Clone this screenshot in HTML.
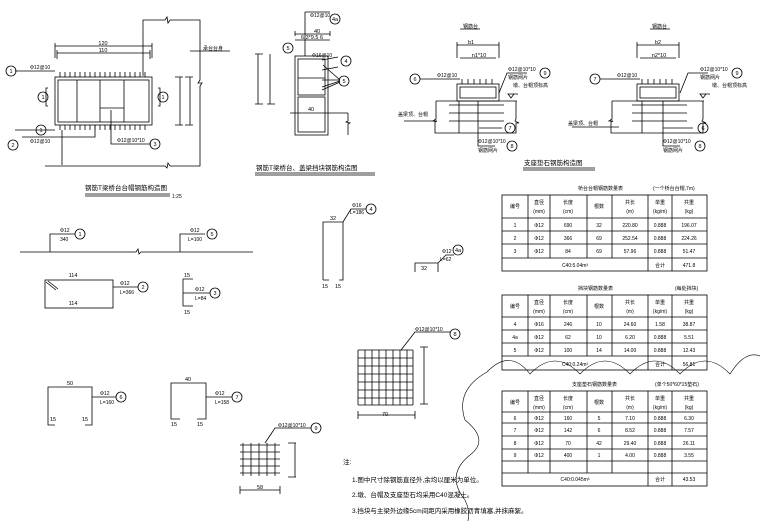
<!DOCTYPE html>
<html><head><meta charset="utf-8"><style>
body{margin:0;background:#fff;}
svg{display:block;font-family:"Liberation Sans","Noto Sans CJK SC",sans-serif;}
text{fill:#000;}
</style></head><body>
<svg width="760" height="521" viewBox="0 0 760 521" xmlns="http://www.w3.org/2000/svg">
<g stroke="#000" stroke-width="0.8" fill="none">
<!-- main cap drawing -->
<rect x="55" y="77" width="97" height="48"/>
<rect x="58" y="80" width="91" height="42"/>
<line x1="77" y1="80" x2="77" y2="122"/><line x1="100" y1="80" x2="100" y2="122"/><line x1="124" y1="80" x2="124" y2="122"/>
<line x1="100" y1="108" x2="124" y2="108"/>
<path d="M60 72v5M65 72v5M70 72v5M75 72v5M80 72v5M85 72v5M90 72v5M95 72v5M100 72v5M105 72v5M110 72v5M115 72v5M120 72v5M125 72v5M130 72v5M135 72v5M140 72v5M145 72v5"/>
<path d="M60 125v5M65 125v5M70 125v5M75 125v5M80 125v5M85 125v5M90 125v5M95 125v5M100 125v5M105 125v5M110 125v5M115 125v5M120 125v5M125 125v5M130 125v5M135 125v5M140 125v5M145 125v5"/>
<path d="M48 88h-2v18h2M158 88h2v18h-2"/>
<path d="M55 46h97M57 53h93M55 43v15M152 43v15M57 50v9M150 50v9"/>
<path d="M143 76V20h22l2-3 1 6 2-3h30v60l-2 3 4 0-2 3v80H170l-2-3-1 5-2-2H45"/>
<path d="M190 51h40"/>
<path d="M62 130v35M95 125v12H22M15 71h40M111 110v34h40M15 130h40"/>
<path d="M180 77v48M175 77h8M175 125h8M190 77v48M185 77h8M185 125h8"/>
<path d="M85 194h85M85 196h85" stroke-width="0.7"/>
<!-- second drawing -->
<rect x="295" y="56" width="33" height="79"/>
<rect x="298" y="59" width="27" height="36"/>
<line x1="298" y1="78" x2="325" y2="78"/>
<rect x="298" y="97" width="27" height="35"/>
<line x1="290" y1="113" x2="348" y2="113"/>
<path d="M305 12v44M305 12h25M295 34h35M295 40h35M295 31v5M330 31v5"/>
<path d="M258 54v50M255 104h8M270 54v50M267 104h8M255 54h8"/>
<path d="M322 60l16-3M322 70l16-3M322 80l18 0M322 87l18-6M322 90l18-8M323 65l17 15"/>
<path d="M348 113v8l-2 1 4 1-2 1v11"/>
<path d="M255 173h120M255 175h120" stroke-width="0.7"/>
<!-- right top left -->
<path d="M460 29h20M457 45h42M457 42v16M499 42v16M460 58h36"/>
<rect x="457" y="84" width="42" height="17"/><rect x="460" y="87" width="36" height="11"/>
<path d="M462 79v5M468 79v5M474 79v5M480 79v5M486 79v5M492 79v5"/>
<path d="M420 79h40M518 94h-10l3 4 3-4"/>
<path d="M436 101h81M436 101v18l-3 2 4 0-2 1v11h81v-10l3 0-4-2 1-2v-18"/>
<path d="M449 105h55M449 113h55M449 121h55M459 101v32M478 101v45h17M404 121h32M479 128h23M499 93l8-20h20"/>
<path d="M523 168h72M523 170h72" stroke-width="0.7"/>
<!-- right top right -->
<path d="M650 29h20M637 45h42M637 42v16M679 42v16M640 58h36"/>
<rect x="637" y="84" width="42" height="17"/><rect x="640" y="87" width="36" height="11"/>
<path d="M642 79v5M648 79v5M654 79v5M660 79v5M666 79v5M672 79v5"/>
<path d="M600 79h40M710 94h-10l3 4 3-4"/>
<path d="M612 101h92M612 101v18l-3 2 4 0-2 1v11h92v-10l3 0-4-2 1-2v-18"/>
<path d="M632 105h55M632 113h55M632 121h55M642 101v32M663 101v45h17M572 127h47M663 128h30M680 93l8-20h20"/>
<!-- tables -->
<rect x="502" y="195" width="205" height="76"/>
<path d="M502 218h205M502 231h205M502 244h205M502 258h205M528 195v63M550 195v63M587 195v63M612 195v63M648 195v76M672 195v76"/>
<rect x="502" y="295" width="205" height="75"/>
<path d="M502 317h205M502 330h205M502 343h205M502 356h205M528 295v61M550 295v61M587 295v61M612 295v61M648 295v75M672 295v75"/>
<rect x="502" y="391" width="205" height="95"/>
<path d="M502 412h205M502 423h205M502 436h205M502 449h205M502 461h205M502 473h205M528 391v82M550 391v82M587 391v82M612 391v82M648 391v95M672 391v95"/>
<path d="M487 372 Q510 348 530 374 Q555 348 580 374 Q605 348 630 374 Q655 348 680 374 Q705 348 730 374 Q745 350 760 356" stroke-width="0.6"/>
<path d="M487 372 Q455 390 465 420 Q490 440 470 455 Q445 475 465 500 Q470 510 468 521" stroke-width="0.6"/>
<!-- bar shapes -->
<path d="M20 252h116l2-3 1 5 2-2h112M50 252v-18h25M180 252v-18h25"/>
<rect x="45" y="280" width="68" height="28"/><path d="M46 282l10 8M48 281l10 8M113 287h25"/>
<path d="M193 279h-10v27h10M183 293h27"/>
<path d="M55 425h-7v-38h44v38h-7M92 397h24"/>
<path d="M180 419h-9v-36h35v36h-9M206 397h26"/>
<path d="M323 280h6M323 280v-58h20v58h-4M343 222l8-13h15"/>
<path d="M415 272v-9h23v9M438 263l8-8h8"/>
<path d="M358 350v55M365 350v55M372 350v55M379 350v55M386 350v55M393 350v55M400 350v55M407 350v55M413 350v55M358 350h55M358 358h55M358 366h55M358 374h55M358 382h55M358 390h55M358 398h55M358 405h55"/>
<path d="M401 350l14-18h35M420 347h8M424 347v57M420 404h8M358 415h57M358 411v8M415 411v8"/>
<path d="M240 445h40M240 452h40M240 459h40M240 466h40M240 473h40M243 443v33M251 443v33M259 443v33M267 443v33M275 443v33"/>
<path d="M265 443l10-15h36M288 443h8M295 443v34M288 477h8M240 490h40M240 486v8M280 486v8"/>
</g>
<g fill="none" stroke="#000" stroke-width="0.8">
<circle cx="11" cy="71" r="5"/><circle cx="43" cy="97" r="5"/><circle cx="163" cy="97" r="5"/><circle cx="41" cy="130" r="5"/><circle cx="13" cy="145" r="5"/><circle cx="155" cy="144" r="5"/><circle cx="335" cy="19" r="5"/><circle cx="288" cy="48" r="5"/><circle cx="346" cy="61" r="5"/><circle cx="344" cy="81" r="5"/>
<circle cx="415" cy="79" r="5"/><circle cx="545" cy="73" r="5"/><circle cx="510" cy="128" r="5"/><circle cx="512" cy="146" r="5"/>
<circle cx="595" cy="79" r="5"/><circle cx="737" cy="73" r="5"/><circle cx="703" cy="128" r="5"/><circle cx="700" cy="146" r="5"/>
<circle cx="80" cy="234" r="5"/><circle cx="212" cy="234" r="5"/><circle cx="143" cy="287" r="5"/><circle cx="215" cy="293" r="5"/><circle cx="121" cy="397" r="5"/><circle cx="237" cy="397" r="5"/><circle cx="371" cy="209" r="5"/><circle cx="458" cy="250" r="5"/><circle cx="455" cy="334" r="5"/><circle cx="316" cy="428" r="5"/>
</g>
<g font-size="5.5" text-anchor="middle">
<text x="11" y="73">1</text><text x="43" y="99">1</text><text x="163" y="99">1</text><text x="41" y="132">1</text><text x="13" y="147">2</text><text x="155" y="146">3</text><text x="335" y="21">4a</text><text x="288" y="50">5</text><text x="346" y="63">4</text><text x="344" y="83">5</text>
<text x="415" y="81">6</text><text x="545" y="75">9</text><text x="510" y="130">7</text><text x="512" y="148">8</text>
<text x="595" y="81">7</text><text x="737" y="75">9</text><text x="703" y="130">6</text><text x="700" y="148">8</text>
<text x="80" y="236">1</text><text x="212" y="236">5</text><text x="143" y="289">2</text><text x="215" y="295">3</text><text x="121" y="399">6</text><text x="237" y="399">7</text><text x="371" y="211">4</text><text x="458" y="252">4a</text><text x="455" y="336">8</text><text x="316" y="430">9</text>
<text x="103" y="45">120</text><text x="103" y="52">110</text><text x="317" y="33">40</text><text x="312" y="39">6  3*9.5  6</text><text x="311" y="111">40</text>
<text x="471" y="44">b1</text><text x="479" y="57">n1*10</text><text x="658" y="44">b2</text><text x="659" y="57">n2*10</text>
<text x="73" y="277">114</text><text x="73" y="305">114</text><text x="70" y="385">50</text><text x="188" y="381">40</text><text x="333" y="220">32</text><text x="424" y="270">32</text><text x="385" y="416">70</text><text x="260" y="489">58</text>
<text x="187" y="277">15</text><text x="187" y="314">15</text><text x="53" y="421">15</text><text x="85" y="421">15</text><text x="174" y="426">15</text><text x="200" y="426">15</text><text x="325" y="288">15</text><text x="338" y="288">15</text>
</g>
<g font-size="5">
<text x="30" y="69">Φ12@10</text><text x="30" y="143">Φ12@10</text><text x="117" y="142">Φ12@10*10</text><text x="310" y="17">Φ12@10</text><text x="312" y="57">Φ16@10</text>
<text x="437" y="77">Φ12@10</text><text x="508" y="71">Φ12@10*10</text><text x="508" y="79">钢筋网片</text><text x="513" y="87">墩、台帽顶标高</text><text x="398" y="116">盖梁顶、台帽</text><text x="478" y="143">Φ12@10*10</text><text x="478" y="152">钢筋网片</text><text x="463" y="28">钢筋台</text>
<text x="617" y="77">Φ12@10</text><text x="700" y="71">Φ12@10*10</text><text x="700" y="79">钢筋网片</text><text x="712" y="87">墩、台帽顶标高</text><text x="568" y="125">盖梁顶、台帽</text><text x="663" y="143">Φ12@10*10</text><text x="663" y="152">钢筋网片</text><text x="652" y="28">钢筋台</text>
<text x="203" y="50">承台台身</text>
<text x="60" y="232">Φ12</text><text x="60" y="241">340</text><text x="190" y="232">Φ12</text><text x="188" y="241">L=100</text>
<text x="120" y="285">Φ12</text><text x="120" y="294">L=366</text><text x="195" y="291">Φ12</text><text x="195" y="300">L=84</text>
<text x="100" y="395">Φ12</text><text x="100" y="404">L=160</text><text x="215" y="395">Φ12</text><text x="215" y="404">L=158</text>
<text x="352" y="207">Φ16</text><text x="350" y="214">L=186</text><text x="442" y="253">Φ12</text><text x="440" y="261">L=62</text>
<text x="415" y="331">Φ12@10*10</text><text x="278" y="427">Φ12@10*10</text>
</g>
<g font-size="6.5">
<text x="85" y="190">钢筋T梁桥台台帽钢筋构造图</text><text x="172" y="198" font-size="5">1:25</text>
<text x="256" y="170">钢筋T梁桥台、盖梁挡块钢筋构造图</text><text x="524" y="165">支座垫石钢筋构造图</text>
<text x="578" y="190" font-size="5">桥台台帽钢筋数量表</text><text x="653" y="190" font-size="5">(一个桥台台帽,7m)</text>
<text x="578" y="290" font-size="5">挡块钢筋数量表</text><text x="675" y="290" font-size="5">(每处挡块)</text>
<text x="572" y="386" font-size="5">支座垫石钢筋数量表</text><text x="655" y="386" font-size="5">(单个50*60*15垫石)</text>
<text x="343" y="464">注:</text>
<text x="352" y="482">1.图中尺寸除钢筋直径外,余均以厘米为单位。</text>
<text x="352" y="497">2.墩、台帽及支座垫石均采用C40混凝土。</text>
<text x="352" y="513">3.挡块与主梁外边缘5cm间距内采用橡胶沥青填塞,并抹麻絮。</text>
</g>
<g font-size="5" text-anchor="middle">
<text x="515" y="208">编号</text><text x="539" y="204">直径</text><text x="539" y="213">(mm)</text><text x="568" y="204">长度</text><text x="568" y="213">(cm)</text><text x="599" y="208">根数</text><text x="630" y="204">共长</text><text x="630" y="213">(m)</text><text x="660" y="204">单重</text><text x="660" y="213">(kg/m)</text><text x="689" y="204">共重</text><text x="689" y="213">(kg)</text>
<text x="515" y="227">1</text><text x="539" y="227">Φ12</text><text x="568" y="227">690</text><text x="599" y="227">32</text><text x="630" y="227">220.80</text><text x="660" y="227">0.888</text><text x="689" y="227">196.07</text>
<text x="515" y="240">2</text><text x="539" y="240">Φ12</text><text x="568" y="240">366</text><text x="599" y="240">69</text><text x="630" y="240">252.54</text><text x="660" y="240">0.888</text><text x="689" y="240">224.26</text>
<text x="515" y="253">3</text><text x="539" y="253">Φ12</text><text x="568" y="253">84</text><text x="599" y="253">69</text><text x="630" y="253">57.96</text><text x="660" y="253">0.888</text><text x="689" y="253">51.47</text>
<text x="575" y="267">C40:5.04m³</text><text x="660" y="267">合计</text><text x="689" y="267">471.8</text>
<text x="515" y="308">编号</text><text x="539" y="304">直径</text><text x="539" y="313">(mm)</text><text x="568" y="304">长度</text><text x="568" y="313">(cm)</text><text x="599" y="308">根数</text><text x="630" y="304">共长</text><text x="630" y="313">(m)</text><text x="660" y="304">单重</text><text x="660" y="313">(kg/m)</text><text x="689" y="304">共重</text><text x="689" y="313">(kg)</text>
<text x="515" y="326">4</text><text x="539" y="326">Φ16</text><text x="568" y="326">246</text><text x="599" y="326">10</text><text x="630" y="326">24.60</text><text x="660" y="326">1.58</text><text x="689" y="326">38.87</text>
<text x="515" y="339">4a</text><text x="539" y="339">Φ12</text><text x="568" y="339">62</text><text x="599" y="339">10</text><text x="630" y="339">6.20</text><text x="660" y="339">0.888</text><text x="689" y="339">5.51</text>
<text x="515" y="352">5</text><text x="539" y="352">Φ12</text><text x="568" y="352">100</text><text x="599" y="352">14</text><text x="630" y="352">14.00</text><text x="660" y="352">0.888</text><text x="689" y="352">12.43</text>
<text x="575" y="366">C40:0.24m³</text><text x="660" y="366">合计</text><text x="689" y="366">56.81</text>
<text x="515" y="404">编号</text><text x="539" y="400">直径</text><text x="539" y="409">(mm)</text><text x="568" y="400">长度</text><text x="568" y="409">(cm)</text><text x="599" y="404">根数</text><text x="630" y="400">共长</text><text x="630" y="409">(m)</text><text x="660" y="400">单重</text><text x="660" y="409">(kg/m)</text><text x="689" y="400">共重</text><text x="689" y="409">(kg)</text>
<text x="515" y="420">6</text><text x="539" y="420">Φ12</text><text x="568" y="420">160</text><text x="599" y="420">5</text><text x="630" y="420">7.10</text><text x="660" y="420">0.888</text><text x="689" y="420">6.30</text>
<text x="515" y="432">7</text><text x="539" y="432">Φ12</text><text x="568" y="432">142</text><text x="599" y="432">6</text><text x="630" y="432">8.52</text><text x="660" y="432">0.888</text><text x="689" y="432">7.57</text>
<text x="515" y="445">8</text><text x="539" y="445">Φ12</text><text x="568" y="445">70</text><text x="599" y="445">42</text><text x="630" y="445">29.40</text><text x="660" y="445">0.888</text><text x="689" y="445">26.11</text>
<text x="515" y="457">9</text><text x="539" y="457">Φ12</text><text x="568" y="457">400</text><text x="599" y="457">1</text><text x="630" y="457">4.00</text><text x="660" y="457">0.888</text><text x="689" y="457">3.55</text>
<text x="575" y="481">C40:0.045m³</text><text x="660" y="481">合计</text><text x="689" y="481">43.53</text>
</g>
</svg>
</body></html>
